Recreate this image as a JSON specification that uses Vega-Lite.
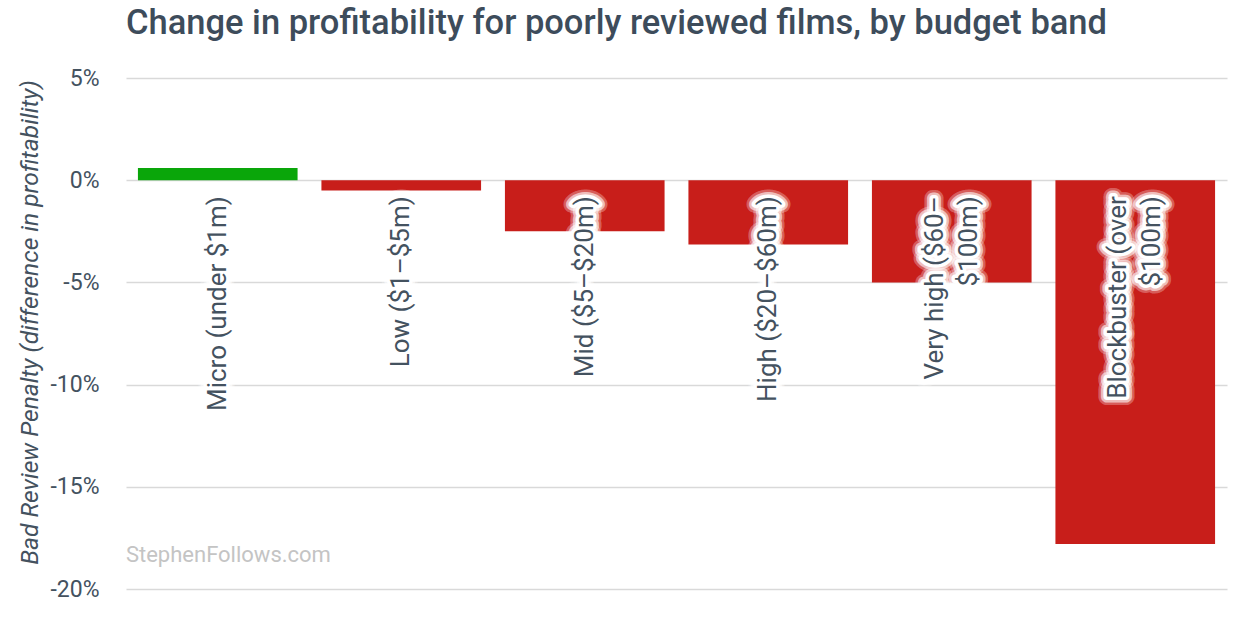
{
  "$schema": "https://vega.github.io/schema/vega-lite/v6.json",
  "width": 1101,
  "height": 511,
  "autosize": {"type": "none"},
  "padding": {"left": 126, "top": 78, "right": 29, "bottom": 31},
  "background": "white",
  "config": {"font": "Roboto", "view": {"stroke": null}},
  "title": {
    "text": "Change in profitability for poorly reviewed films, by budget band",
    "anchor": "start",
    "frame": "group",
    "fontSize": 34.5,
    "fontWeight": 500,
    "font": "Roboto",
    "color": "#3d4c5b",
    "baseline": "alphabetic",
    "offset": -1
  },
  "data": {
    "values": [
      {"band": "Micro (under $1m)", "label": "Micro (under $1m)", "value": 0.6},
      {"band": "Low ($1–$5m)", "label": "Low ($1–$5m)", "value": -0.5},
      {"band": "Mid ($5–$20m)", "label": "Mid ($5–$20m)", "value": -2.5},
      {"band": "High ($20–$60m)", "label": "High ($20–$60m)", "value": -3.15},
      {"band": "Very high ($60–$100m)", "label": ["Very high ($60–", "$100m)"], "value": -5.0},
      {"band": "Blockbuster (over $100m)", "label": ["Blockbuster (over", "$100m)"], "value": -17.8}
    ]
  },
  "encoding": {
    "x": {
      "field": "band",
      "type": "nominal",
      "sort": null,
      "axis": null,
      "scale": {"paddingInner": 0.13, "paddingOuter": 0.065}
    }
  },
  "layer": [
    {
      "mark": {"type": "bar"},
      "encoding": {
        "y": {
          "field": "value",
          "type": "quantitative",
          "scale": {"domain": [-20, 5], "nice": false},
          "axis": {
            "values": [-20, -15, -10, -5, 0, 5],
            "labelExpr": "datum.value + '%'",
            "domain": false,
            "ticks": false,
            "labelPadding": 27,
            "labelFontSize": 23,
            "labelColor": "#44525f",
            "labelFont": "Roboto",
            "gridColor": "#d9d9d9",
            "gridWidth": 1.5,
            "title": "Bad Review Penalty (difference in profitability)",
            "titleFont": "Roboto",
            "titleFontSize": 24.5,
            "titleFontStyle": "italic",
            "titleFontWeight": "normal",
            "titleColor": "#44525f",
            "titleX": -96,
            "titleY": 244,
            "titleAngle": 270,
            "titleAlign": "center",
            "titleBaseline": "middle"
          }
        },
        "color": {
          "condition": {"test": "datum.value > 0", "value": "#0aa60a"},
          "value": "#c81e1a"
        }
      }
    },
    {
      "mark": {"type": "text", "angle": 270, "align": "right", "baseline": "middle", "dx": -16, "dy": {"expr": "isArray(datum.label) ? -17 : 0"}, "fontSize": 26, "lineHeight": 34, "font": "Roboto", "fill": "white", "stroke": "white", "strokeWidth": 17, "strokeOpacity": 0.3, "strokeJoin": "round"},
      "encoding": {"y": {"datum": 0}, "text": {"field": "label"}}
    },
    {
      "mark": {"type": "text", "angle": 270, "align": "right", "baseline": "middle", "dx": -16, "dy": {"expr": "isArray(datum.label) ? -17 : 0"}, "fontSize": 26, "lineHeight": 34, "font": "Roboto", "fill": "white", "stroke": "white", "strokeWidth": 12, "strokeOpacity": 0.6, "strokeJoin": "round"},
      "encoding": {"y": {"datum": 0}, "text": {"field": "label"}}
    },
    {
      "mark": {"type": "text", "angle": 270, "align": "right", "baseline": "middle", "dx": -16, "dy": {"expr": "isArray(datum.label) ? -17 : 0"}, "fontSize": 26, "lineHeight": 34, "font": "Roboto", "fill": "white", "stroke": "white", "strokeWidth": 7, "strokeOpacity": 1, "strokeJoin": "round"},
      "encoding": {"y": {"datum": 0}, "text": {"field": "label"}}
    },
    {
      "mark": {"type": "text", "angle": 270, "align": "right", "baseline": "middle", "dx": -16, "dy": {"expr": "isArray(datum.label) ? -17 : 0"}, "fontSize": 26, "lineHeight": 34, "font": "Roboto", "fill": "#44525f"},
      "encoding": {"y": {"datum": 0}, "text": {"field": "label"}}
    },
    {
      "data": {"values": [{"t": "StephenFollows.com"}]},
      "mark": {"type": "text", "align": "left", "baseline": "alphabetic", "fontSize": 22, "font": "Roboto", "fill": "#c4c4c4", "dx": -12},
      "encoding": {
        "x": {"datum": "Micro (under $1m)", "bandPosition": 0},
        "y": {"datum": -18.7},
        "text": {"field": "t"}
      }
    }
  ]
}
